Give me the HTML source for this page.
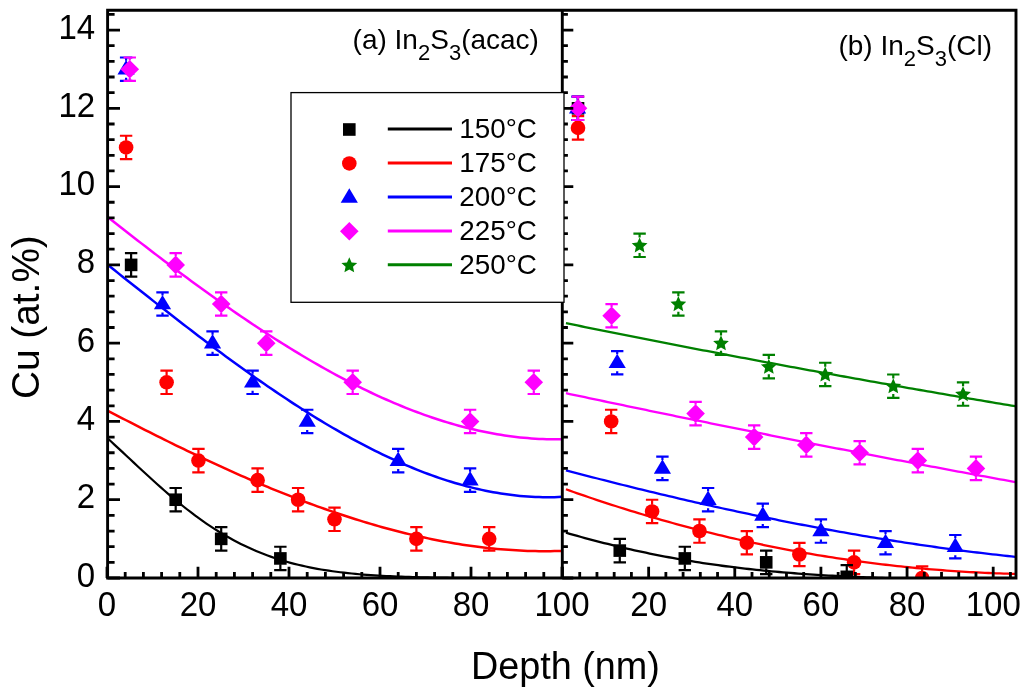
<!DOCTYPE html>
<html><head><meta charset="utf-8"><title>Cu depth profiles</title>
<style>
html,body{margin:0;padding:0;background:#fff;}
body{width:1024px;height:693px;overflow:hidden;}
svg{display:block;}
.t{font-family:"Liberation Sans",Arial,sans-serif;fill:#000;}
</style></head><body>
<svg width="1024" height="693" viewBox="0 0 1024 693">
<defs><clipPath id="cl"><rect x="107.6" y="10.3" width="454.69999999999993" height="567.7"/></clipPath><clipPath id="cr"><rect x="562.3" y="10.3" width="453.70000000000005" height="567.7"/></clipPath></defs>
<rect width="1024" height="693" fill="#fff"/>
<g clip-path="url(#cl)">
<path d="M107,437.82 L110.82,441.31 L114.65,444.82 L118.47,448.36 L122.29,451.92 L126.12,455.49 L129.94,459.07 L133.76,462.64 L137.59,466.21 L141.41,469.77 L145.24,473.3 L149.06,476.81 L152.88,480.29 L156.71,483.74 L160.53,487.14 L164.35,490.5 L168.18,493.82 L172,497.07 L175.82,500.28 L179.65,503.42 L183.47,506.5 L187.29,509.51 L191.12,512.46 L194.94,515.34 L198.76,518.14 L202.59,520.87 L206.41,523.53 L210.24,526.1 L214.06,528.6 L217.88,531.03 L221.71,533.37 L225.53,535.64 L229.35,537.82 L233.18,539.93 L237,541.96 L240.82,543.92 L244.65,545.79 L248.47,547.6 L252.29,549.32 L256.12,550.98 L259.94,552.56 L263.76,554.07 L267.59,555.51 L271.41,556.89 L275.24,558.2 L279.06,559.44 L282.88,560.63 L286.71,561.75 L290.53,562.82 L294.35,563.83 L298.18,564.78 L302,565.68 L305.82,566.53 L309.65,567.34 L313.47,568.09 L317.29,568.81 L321.12,569.48 L324.94,570.11 L328.76,570.7 L332.59,571.25 L336.41,571.77 L340.24,572.25 L344.06,572.71 L347.88,573.13 L351.71,573.52 L355.53,573.89 L359.35,574.23 L363.18,574.55 L367,574.85 L370.82,575.12 L374.65,575.37 L378.47,575.61 L382.29,575.83 L386.12,576.03 L389.94,576.21 L393.76,576.38 L397.59,576.54 L401.41,576.69 L405.24,576.82 L409.06,576.94 L412.88,577.06 L416.71,577.16 L420.53,577.25 L424.35,577.34 L428.18,577.42 L432,577.49 L435.82,577.56 L439.65,577.62 L443.47,577.67 L447.29,577.72 L451.12,577.77 L454.94,577.81 L458.76,577.84 L462.59,577.88 L466.41,577.91 L470.24,577.94 L474.06,577.96 L477.88,577.98 L481.71,578 L485.53,578.02 L489.35,578.04 L493.18,578.05 L497,578.07 L500.82,578.08 L504.65,578.09 L508.47,578.1 L512.29,578.11 L516.12,578.12 L519.94,578.12 L523.76,578.13 L527.59,578.14 L531.41,578.14 L535.24,578.14 L539.06,578.15 L542.88,578.15 L546.71,578.15 L550.53,578.16 L554.35,578.16 L558.18,578.16 L562,578.16" stroke="#000000" stroke-width="2.2" fill="none"/>
<path d="M107,410.3 L110.82,412.3 L114.65,414.3 L118.47,416.29 L122.29,418.27 L126.12,420.24 L129.94,422.21 L133.76,424.18 L137.59,426.13 L141.41,428.08 L145.24,430.02 L149.06,431.95 L152.88,433.88 L156.71,435.8 L160.53,437.71 L164.35,439.61 L168.18,441.5 L172,443.38 L175.82,445.26 L179.65,447.12 L183.47,448.98 L187.29,450.82 L191.12,452.66 L194.94,454.48 L198.76,456.3 L202.59,458.1 L206.41,459.89 L210.24,461.68 L214.06,463.45 L217.88,465.21 L221.71,466.96 L225.53,468.69 L229.35,470.42 L233.18,472.13 L237,473.83 L240.82,475.52 L244.65,477.19 L248.47,478.86 L252.29,480.5 L256.12,482.14 L259.94,483.76 L263.76,485.37 L267.59,486.96 L271.41,488.54 L275.24,490.1 L279.06,491.65 L282.88,493.19 L286.71,494.71 L290.53,496.21 L294.35,497.7 L298.18,499.17 L302,500.63 L305.82,502.07 L309.65,503.5 L313.47,504.9 L317.29,506.3 L321.12,507.67 L324.94,509.03 L328.76,510.37 L332.59,511.69 L336.41,512.99 L340.24,514.28 L344.06,515.55 L347.88,516.8 L351.71,518.03 L355.53,519.24 L359.35,520.43 L363.18,521.6 L367,522.76 L370.82,523.89 L374.65,525.01 L378.47,526.1 L382.29,527.18 L386.12,528.23 L389.94,529.26 L393.76,530.27 L397.59,531.27 L401.41,532.23 L405.24,533.18 L409.06,534.11 L412.88,535.01 L416.71,535.89 L420.53,536.75 L424.35,537.59 L428.18,538.4 L432,539.2 L435.82,539.96 L439.65,540.71 L443.47,541.43 L447.29,542.13 L451.12,542.8 L454.94,543.45 L458.76,544.07 L462.59,544.67 L466.41,545.25 L470.24,545.79 L474.06,546.32 L477.88,546.82 L481.71,547.29 L485.53,547.74 L489.35,548.16 L493.18,548.55 L497,548.92 L500.82,549.26 L504.65,549.58 L508.47,549.86 L512.29,550.12 L516.12,550.36 L519.94,550.56 L523.76,550.74 L527.59,550.88 L531.41,551 L535.24,551.09 L539.06,551.16 L542.88,551.19 L546.71,551.19 L550.53,551.17 L554.35,551.11 L558.18,551.03 L562,550.91" stroke="#ff0000" stroke-width="2.5" fill="none"/>
<path d="M107,264.27 L110.82,267.31 L114.65,270.35 L118.47,273.39 L122.29,276.42 L126.12,279.46 L129.94,282.49 L133.76,285.52 L137.59,288.55 L141.41,291.57 L145.24,294.59 L149.06,297.6 L152.88,300.61 L156.71,303.62 L160.53,306.61 L164.35,309.6 L168.18,312.59 L172,315.56 L175.82,318.53 L179.65,321.49 L183.47,324.44 L187.29,327.38 L191.12,330.31 L194.94,333.23 L198.76,336.14 L202.59,339.04 L206.41,341.93 L210.24,344.8 L214.06,347.66 L217.88,350.51 L221.71,353.35 L225.53,356.17 L229.35,358.98 L233.18,361.77 L237,364.55 L240.82,367.31 L244.65,370.06 L248.47,372.79 L252.29,375.5 L256.12,378.2 L259.94,380.88 L263.76,383.53 L267.59,386.17 L271.41,388.79 L275.24,391.4 L279.06,393.98 L282.88,396.54 L286.71,399.07 L290.53,401.59 L294.35,404.09 L298.18,406.56 L302,409.01 L305.82,411.43 L309.65,413.84 L313.47,416.21 L317.29,418.57 L321.12,420.9 L324.94,423.2 L328.76,425.47 L332.59,427.72 L336.41,429.95 L340.24,432.14 L344.06,434.31 L347.88,436.45 L351.71,438.56 L355.53,440.64 L359.35,442.69 L363.18,444.71 L367,446.7 L370.82,448.66 L374.65,450.58 L378.47,452.48 L382.29,454.34 L386.12,456.17 L389.94,457.97 L393.76,459.73 L397.59,461.45 L401.41,463.15 L405.24,464.81 L409.06,466.43 L412.88,468.01 L416.71,469.56 L420.53,471.08 L424.35,472.55 L428.18,473.99 L432,475.39 L435.82,476.75 L439.65,478.07 L443.47,479.35 L447.29,480.59 L451.12,481.79 L454.94,482.94 L458.76,484.06 L462.59,485.14 L466.41,486.17 L470.24,487.16 L474.06,488.1 L477.88,489.01 L481.71,489.86 L485.53,490.68 L489.35,491.44 L493.18,492.17 L497,492.84 L500.82,493.47 L504.65,494.05 L508.47,494.59 L512.29,495.08 L516.12,495.51 L519.94,495.9 L523.76,496.24 L527.59,496.53 L531.41,496.77 L535.24,496.96 L539.06,497.1 L542.88,497.19 L546.71,497.22 L550.53,497.21 L554.35,497.14 L558.18,497.01 L562,496.83" stroke="#0000ff" stroke-width="2.5" fill="none"/>
<path d="M107,216.45 L110.82,219.47 L114.65,222.48 L118.47,225.49 L122.29,228.49 L126.12,231.48 L129.94,234.46 L133.76,237.44 L137.59,240.41 L141.41,243.37 L145.24,246.32 L149.06,249.26 L152.88,252.19 L156.71,255.12 L160.53,258.03 L164.35,260.93 L168.18,263.82 L172,266.7 L175.82,269.57 L179.65,272.42 L183.47,275.27 L187.29,278.1 L191.12,280.92 L194.94,283.72 L198.76,286.51 L202.59,289.29 L206.41,292.05 L210.24,294.8 L214.06,297.54 L217.88,300.25 L221.71,302.96 L225.53,305.64 L229.35,308.31 L233.18,310.97 L237,313.6 L240.82,316.22 L244.65,318.83 L248.47,321.41 L252.29,323.97 L256.12,326.52 L259.94,329.05 L263.76,331.55 L267.59,334.04 L271.41,336.51 L275.24,338.96 L279.06,341.39 L282.88,343.79 L286.71,346.17 L290.53,348.54 L294.35,350.88 L298.18,353.19 L302,355.49 L305.82,357.76 L309.65,360.01 L313.47,362.23 L317.29,364.43 L321.12,366.61 L324.94,368.76 L328.76,370.88 L332.59,372.98 L336.41,375.06 L340.24,377.1 L344.06,379.13 L347.88,381.12 L351.71,383.09 L355.53,385.02 L359.35,386.94 L363.18,388.82 L367,390.67 L370.82,392.5 L374.65,394.29 L378.47,396.06 L382.29,397.79 L386.12,399.5 L389.94,401.18 L393.76,402.82 L397.59,404.43 L401.41,406.01 L405.24,407.56 L409.06,409.08 L412.88,410.56 L416.71,412.01 L420.53,413.43 L424.35,414.81 L428.18,416.16 L432,417.47 L435.82,418.75 L439.65,420 L443.47,421.21 L447.29,422.38 L451.12,423.51 L454.94,424.61 L458.76,425.68 L462.59,426.7 L466.41,427.69 L470.24,428.64 L474.06,429.56 L477.88,430.43 L481.71,431.26 L485.53,432.06 L489.35,432.82 L493.18,433.53 L497,434.21 L500.82,434.84 L504.65,435.44 L508.47,435.99 L512.29,436.5 L516.12,436.97 L519.94,437.4 L523.76,437.78 L527.59,438.12 L531.41,438.42 L535.24,438.67 L539.06,438.88 L542.88,439.05 L546.71,439.17 L550.53,439.25 L554.35,439.28 L558.18,439.26 L562,439.2" stroke="#ff00ff" stroke-width="2.5" fill="none"/>
<path d="M131.12,253.18 V259.08 M131.12,270.68 V276.58 M124.92,253.18 H137.31 M124.92,276.58 H137.31" stroke="#000000" stroke-width="2.2" fill="none"/>
<rect x="124.82" y="258.58" width="12.6" height="12.6" fill="#000000"/>
<path d="M175.7,488.02 V493.92 M175.7,505.52 V511.42 M169.5,488.02 H181.9 M169.5,511.42 H181.9" stroke="#000000" stroke-width="2.2" fill="none"/>
<rect x="169.4" y="493.42" width="12.6" height="12.6" fill="#000000"/>
<path d="M221.2,527.16 V533.06 M221.2,544.66 V550.56 M215,527.16 H227.4 M215,550.56 H227.4" stroke="#000000" stroke-width="2.2" fill="none"/>
<rect x="214.9" y="532.56" width="12.6" height="12.6" fill="#000000"/>
<path d="M280.36,546.73 V552.63 M280.36,564.23 V570.13 M274.16,546.73 H286.56 M274.16,570.13 H286.56" stroke="#000000" stroke-width="2.2" fill="none"/>
<rect x="274.06" y="552.13" width="12.6" height="12.6" fill="#000000"/>
<path d="M126.11,135.76 V140.66 M126.11,154.26 V159.16 M119.91,135.76 H132.31 M119.91,159.16 H132.31" stroke="#ff0000" stroke-width="2.2" fill="none"/>
<circle cx="126.11" cy="147.46" r="7.3" fill="#ff0000"/>
<path d="M166.6,370.6 V375.5 M166.6,389.1 V394 M160.41,370.6 H172.8 M160.41,394 H172.8" stroke="#ff0000" stroke-width="2.2" fill="none"/>
<circle cx="166.6" cy="382.3" r="7.3" fill="#ff0000"/>
<path d="M198.45,448.88 V453.78 M198.45,467.38 V472.28 M192.25,448.88 H204.65 M192.25,472.28 H204.65" stroke="#ff0000" stroke-width="2.2" fill="none"/>
<circle cx="198.45" cy="460.58" r="7.3" fill="#ff0000"/>
<path d="M257.61,468.45 V473.35 M257.61,486.95 V491.85 M251.41,468.45 H263.81 M251.41,491.85 H263.81" stroke="#ff0000" stroke-width="2.2" fill="none"/>
<circle cx="257.61" cy="480.15" r="7.3" fill="#ff0000"/>
<path d="M298.1,488.02 V492.92 M298.1,506.52 V511.42 M291.9,488.02 H304.3 M291.9,511.42 H304.3" stroke="#ff0000" stroke-width="2.2" fill="none"/>
<circle cx="298.1" cy="499.72" r="7.3" fill="#ff0000"/>
<path d="M334.5,507.59 V512.49 M334.5,526.09 V530.99 M328.3,507.59 H340.7 M328.3,530.99 H340.7" stroke="#ff0000" stroke-width="2.2" fill="none"/>
<circle cx="334.5" cy="519.29" r="7.3" fill="#ff0000"/>
<path d="M416.4,527.16 V532.06 M416.4,545.66 V550.56 M410.2,527.16 H422.6 M410.2,550.56 H422.6" stroke="#ff0000" stroke-width="2.2" fill="none"/>
<circle cx="416.4" cy="538.86" r="7.3" fill="#ff0000"/>
<path d="M489.2,527.16 V532.06 M489.2,545.66 V550.56 M483,527.16 H495.4 M483,550.56 H495.4" stroke="#ff0000" stroke-width="2.2" fill="none"/>
<circle cx="489.2" cy="538.86" r="7.3" fill="#ff0000"/>
<path d="M126.11,57.48 V60.68 M126.11,77.68 V80.88 M119.91,57.48 H132.31 M119.91,80.88 H132.31" stroke="#0000ff" stroke-width="2.2" fill="none"/>
<path d="M126.11,60.08 L134.71,74.48 L117.51,74.48Z" fill="#0000ff"/>
<path d="M162.51,292.32 V295.52 M162.51,312.52 V315.72 M156.31,292.32 H168.71 M156.31,315.72 H168.71" stroke="#0000ff" stroke-width="2.2" fill="none"/>
<path d="M162.51,294.92 L171.11,309.32 L153.91,309.32Z" fill="#0000ff"/>
<path d="M212.56,331.46 V334.66 M212.56,351.66 V354.86 M206.36,331.46 H218.76 M206.36,354.86 H218.76" stroke="#0000ff" stroke-width="2.2" fill="none"/>
<path d="M212.56,334.06 L221.16,348.46 L203.96,348.46Z" fill="#0000ff"/>
<path d="M252.6,370.6 V373.8 M252.6,390.8 V394 M246.4,370.6 H258.8 M246.4,394 H258.8" stroke="#0000ff" stroke-width="2.2" fill="none"/>
<path d="M252.6,373.2 L261.2,387.6 L244,387.6Z" fill="#0000ff"/>
<path d="M307.2,409.74 V412.94 M307.2,429.94 V433.14 M301,409.74 H313.4 M301,433.14 H313.4" stroke="#0000ff" stroke-width="2.2" fill="none"/>
<path d="M307.2,412.34 L315.8,426.74 L298.6,426.74Z" fill="#0000ff"/>
<path d="M398.2,448.88 V452.08 M398.2,469.08 V472.28 M392,448.88 H404.4 M392,472.28 H404.4" stroke="#0000ff" stroke-width="2.2" fill="none"/>
<path d="M398.2,451.48 L406.8,465.88 L389.6,465.88Z" fill="#0000ff"/>
<path d="M470.09,468.45 V471.65 M470.09,488.65 V491.85 M463.89,468.45 H476.29 M463.89,491.85 H476.29" stroke="#0000ff" stroke-width="2.2" fill="none"/>
<path d="M470.09,471.05 L478.69,485.45 L461.49,485.45Z" fill="#0000ff"/>
<path d="M129.75,57.48 V60.38 M129.75,77.98 V80.88 M123.55,57.48 H135.95 M123.55,80.88 H135.95" stroke="#ff00ff" stroke-width="2.2" fill="none"/>
<path d="M129.75,59.88 L139.05,69.18 L129.75,78.48 L120.45,69.18Z" fill="#ff00ff"/>
<path d="M175.7,253.18 V256.08 M175.7,273.68 V276.58 M169.5,253.18 H181.9 M169.5,276.58 H181.9" stroke="#ff00ff" stroke-width="2.2" fill="none"/>
<path d="M175.7,255.58 L185,264.88 L175.7,274.18 L166.4,264.88Z" fill="#ff00ff"/>
<path d="M221.2,292.32 V295.22 M221.2,312.82 V315.72 M215,292.32 H227.4 M215,315.72 H227.4" stroke="#ff00ff" stroke-width="2.2" fill="none"/>
<path d="M221.2,294.72 L230.5,304.02 L221.2,313.32 L211.9,304.02Z" fill="#ff00ff"/>
<path d="M266.25,331.46 V334.36 M266.25,351.96 V354.86 M260.05,331.46 H272.45 M260.05,354.86 H272.45" stroke="#ff00ff" stroke-width="2.2" fill="none"/>
<path d="M266.25,333.86 L275.55,343.16 L266.25,352.46 L256.95,343.16Z" fill="#ff00ff"/>
<path d="M352.7,370.6 V373.5 M352.7,391.1 V394 M346.5,370.6 H358.9 M346.5,394 H358.9" stroke="#ff00ff" stroke-width="2.2" fill="none"/>
<path d="M352.7,373 L362,382.3 L352.7,391.6 L343.4,382.3Z" fill="#ff00ff"/>
<path d="M470.09,409.74 V412.64 M470.09,430.24 V433.14 M463.89,409.74 H476.29 M463.89,433.14 H476.29" stroke="#ff00ff" stroke-width="2.2" fill="none"/>
<path d="M470.09,412.14 L479.39,421.44 L470.09,430.74 L460.79,421.44Z" fill="#ff00ff"/>
<path d="M533.79,370.6 V373.5 M533.79,391.1 V394 M527.59,370.6 H539.99 M527.59,394 H539.99" stroke="#ff00ff" stroke-width="2.2" fill="none"/>
<path d="M533.79,373 L543.09,382.3 L533.79,391.6 L524.49,382.3Z" fill="#ff00ff"/>
</g>
<g clip-path="url(#cr)">
<path d="M565.95,532.71 L569.75,533.8 L573.56,534.88 L577.37,535.95 L581.18,537 L584.98,538.04 L588.79,539.07 L592.6,540.08 L596.41,541.08 L600.21,542.06 L604.02,543.03 L607.83,543.99 L611.64,544.93 L615.44,545.85 L619.25,546.77 L623.06,547.66 L626.87,548.54 L630.67,549.41 L634.48,550.26 L638.29,551.1 L642.1,551.92 L645.9,552.73 L649.71,553.52 L653.52,554.29 L657.33,555.06 L661.13,555.8 L664.94,556.53 L668.75,557.25 L672.56,557.95 L676.36,558.63 L680.17,559.3 L683.98,559.96 L687.79,560.6 L691.59,561.23 L695.4,561.84 L699.21,562.44 L703.02,563.02 L706.82,563.59 L710.63,564.15 L714.44,564.69 L718.25,565.22 L722.05,565.74 L725.86,566.24 L729.67,566.73 L733.48,567.21 L737.28,567.67 L741.09,568.12 L744.9,568.56 L748.71,568.99 L752.51,569.41 L756.32,569.81 L760.13,570.2 L763.94,570.58 L767.74,570.95 L771.55,571.31 L775.36,571.66 L779.17,572 L782.97,572.33 L786.78,572.64 L790.59,572.95 L794.4,573.25 L798.21,573.54 L802.01,573.82 L805.82,574.09 L809.63,574.35 L813.44,574.6 L817.24,574.85 L821.05,575.09 L824.86,575.31 L828.67,575.54 L832.47,575.75 L836.28,575.95 L840.09,576.15 L843.9,576.35 L847.7,576.53 L851.51,576.71 L855.32,576.88 L859.13,577.05 L862.93,577.21 L866.74,577.36 L870.55,577.51 L874.36,577.65 L878.16,577.79 L881.97,577.92 L885.78,578.05 L889.59,578.17 L893.39,578.28 L897.2,578.4 L901.01,578.5 L904.82,578.61 L908.62,578.71 L912.43,578.8 L916.24,578.9 L920.05,578.98 L923.85,579.07 L927.66,579.15 L931.47,579.23 L935.28,579.3 L939.08,579.37 L942.89,579.44 L946.7,579.5 L950.51,579.57 L954.31,579.62 L958.12,579.68 L961.93,579.74 L965.74,579.79 L969.54,579.84 L973.35,579.88 L977.16,579.93 L980.97,579.97 L984.77,580.01 L988.58,580.05 L992.39,580.09 L996.2,580.13 L1000,580.16 L1003.81,580.19 L1007.62,580.22 L1011.43,580.25 L1015.23,580.28 L1019.04,580.31" stroke="#000000" stroke-width="2.3" fill="none"/>
<path d="M565.95,489.28 L569.75,490.64 L573.56,491.98 L577.37,493.31 L581.18,494.63 L584.98,495.94 L588.79,497.24 L592.6,498.53 L596.41,499.8 L600.21,501.07 L604.02,502.32 L607.83,503.57 L611.64,504.8 L615.44,506.02 L619.25,507.23 L623.06,508.43 L626.87,509.61 L630.67,510.79 L634.48,511.96 L638.29,513.11 L642.1,514.25 L645.9,515.38 L649.71,516.5 L653.52,517.61 L657.33,518.71 L661.13,519.8 L664.94,520.88 L668.75,521.94 L672.56,523 L676.36,524.04 L680.17,525.07 L683.98,526.1 L687.79,527.11 L691.59,528.11 L695.4,529.1 L699.21,530.07 L703.02,531.04 L706.82,532 L710.63,532.94 L714.44,533.88 L718.25,534.8 L722.05,535.71 L725.86,536.61 L729.67,537.51 L733.48,538.38 L737.28,539.25 L741.09,540.11 L744.9,540.96 L748.71,541.8 L752.51,542.62 L756.32,543.44 L760.13,544.24 L763.94,545.03 L767.74,545.82 L771.55,546.59 L775.36,547.35 L779.17,548.1 L782.97,548.84 L786.78,549.57 L790.59,550.28 L794.4,550.99 L798.21,551.69 L802.01,552.37 L805.82,553.05 L809.63,553.71 L813.44,554.36 L817.24,555.01 L821.05,555.64 L824.86,556.26 L828.67,556.87 L832.47,557.47 L836.28,558.06 L840.09,558.64 L843.9,559.21 L847.7,559.76 L851.51,560.31 L855.32,560.85 L859.13,561.37 L862.93,561.89 L866.74,562.39 L870.55,562.88 L874.36,563.37 L878.16,563.84 L881.97,564.3 L885.78,564.75 L889.59,565.19 L893.39,565.62 L897.2,566.04 L901.01,566.45 L904.82,566.85 L908.62,567.24 L912.43,567.62 L916.24,567.99 L920.05,568.34 L923.85,568.69 L927.66,569.03 L931.47,569.35 L935.28,569.67 L939.08,569.97 L942.89,570.26 L946.7,570.55 L950.51,570.82 L954.31,571.08 L958.12,571.34 L961.93,571.58 L965.74,571.81 L969.54,572.03 L973.35,572.24 L977.16,572.44 L980.97,572.63 L984.77,572.81 L988.58,572.98 L992.39,573.14 L996.2,573.29 L1000,573.43 L1003.81,573.56 L1007.62,573.67 L1011.43,573.78 L1015.23,573.88 L1019.04,573.97" stroke="#ff0000" stroke-width="2.3" fill="none"/>
<path d="M565.95,470.34 L569.75,471.34 L573.56,472.34 L577.37,473.34 L581.18,474.33 L584.98,475.32 L588.79,476.3 L592.6,477.29 L596.41,478.26 L600.21,479.24 L604.02,480.21 L607.83,481.17 L611.64,482.14 L615.44,483.1 L619.25,484.05 L623.06,485 L626.87,485.95 L630.67,486.89 L634.48,487.83 L638.29,488.76 L642.1,489.7 L645.9,490.62 L649.71,491.54 L653.52,492.46 L657.33,493.38 L661.13,494.29 L664.94,495.19 L668.75,496.09 L672.56,496.99 L676.36,497.88 L680.17,498.77 L683.98,499.66 L687.79,500.54 L691.59,501.41 L695.4,502.28 L699.21,503.15 L703.02,504.01 L706.82,504.87 L710.63,505.72 L714.44,506.57 L718.25,507.41 L722.05,508.25 L725.86,509.08 L729.67,509.91 L733.48,510.74 L737.28,511.56 L741.09,512.37 L744.9,513.18 L748.71,513.99 L752.51,514.79 L756.32,515.59 L760.13,516.38 L763.94,517.16 L767.74,517.94 L771.55,518.72 L775.36,519.49 L779.17,520.26 L782.97,521.02 L786.78,521.78 L790.59,522.53 L794.4,523.27 L798.21,524.01 L802.01,524.75 L805.82,525.48 L809.63,526.2 L813.44,526.92 L817.24,527.64 L821.05,528.34 L824.86,529.05 L828.67,529.75 L832.47,530.44 L836.28,531.13 L840.09,531.81 L843.9,532.48 L847.7,533.16 L851.51,533.82 L855.32,534.48 L859.13,535.13 L862.93,535.78 L866.74,536.43 L870.55,537.06 L874.36,537.69 L878.16,538.32 L881.97,538.94 L885.78,539.55 L889.59,540.16 L893.39,540.76 L897.2,541.36 L901.01,541.95 L904.82,542.54 L908.62,543.12 L912.43,543.69 L916.24,544.26 L920.05,544.82 L923.85,545.37 L927.66,545.92 L931.47,546.46 L935.28,547 L939.08,547.53 L942.89,548.05 L946.7,548.57 L950.51,549.08 L954.31,549.59 L958.12,550.09 L961.93,550.58 L965.74,551.07 L969.54,551.55 L973.35,552.02 L977.16,552.49 L980.97,552.95 L984.77,553.4 L988.58,553.85 L992.39,554.29 L996.2,554.73 L1000,555.16 L1003.81,555.58 L1007.62,555.99 L1011.43,556.4 L1015.23,556.8 L1019.04,557.2" stroke="#0000ff" stroke-width="2.3" fill="none"/>
<path d="M565.95,393.21 L569.75,394.02 L573.56,394.82 L577.37,395.63 L581.18,396.44 L584.98,397.24 L588.79,398.04 L592.6,398.85 L596.41,399.65 L600.21,400.45 L604.02,401.25 L607.83,402.05 L611.64,402.84 L615.44,403.64 L619.25,404.44 L623.06,405.23 L626.87,406.03 L630.67,406.82 L634.48,407.61 L638.29,408.4 L642.1,409.19 L645.9,409.98 L649.71,410.77 L653.52,411.56 L657.33,412.35 L661.13,413.13 L664.94,413.92 L668.75,414.7 L672.56,415.48 L676.36,416.26 L680.17,417.05 L683.98,417.83 L687.79,418.6 L691.59,419.38 L695.4,420.16 L699.21,420.94 L703.02,421.71 L706.82,422.49 L710.63,423.26 L714.44,424.03 L718.25,424.8 L722.05,425.57 L725.86,426.34 L729.67,427.11 L733.48,427.88 L737.28,428.65 L741.09,429.41 L744.9,430.18 L748.71,430.94 L752.51,431.71 L756.32,432.47 L760.13,433.23 L763.94,433.99 L767.74,434.75 L771.55,435.51 L775.36,436.26 L779.17,437.02 L782.97,437.78 L786.78,438.53 L790.59,439.28 L794.4,440.04 L798.21,440.79 L802.01,441.54 L805.82,442.29 L809.63,443.04 L813.44,443.79 L817.24,444.53 L821.05,445.28 L824.86,446.03 L828.67,446.77 L832.47,447.51 L836.28,448.26 L840.09,449 L843.9,449.74 L847.7,450.48 L851.51,451.22 L855.32,451.95 L859.13,452.69 L862.93,453.43 L866.74,454.16 L870.55,454.9 L874.36,455.63 L878.16,456.36 L881.97,457.09 L885.78,457.82 L889.59,458.55 L893.39,459.28 L897.2,460.01 L901.01,460.73 L904.82,461.46 L908.62,462.18 L912.43,462.91 L916.24,463.63 L920.05,464.35 L923.85,465.07 L927.66,465.79 L931.47,466.51 L935.28,467.23 L939.08,467.95 L942.89,468.66 L946.7,469.38 L950.51,470.09 L954.31,470.8 L958.12,471.52 L961.93,472.23 L965.74,472.94 L969.54,473.65 L973.35,474.36 L977.16,475.07 L980.97,475.77 L984.77,476.48 L988.58,477.18 L992.39,477.89 L996.2,478.59 L1000,479.29 L1003.81,479.99 L1007.62,480.69 L1011.43,481.39 L1015.23,482.09 L1019.04,482.79" stroke="#ff00ff" stroke-width="2.3" fill="none"/>
<path d="M565.95,323.16 L569.75,323.93 L573.56,324.71 L577.37,325.48 L581.18,326.25 L584.98,327.02 L588.79,327.78 L592.6,328.55 L596.41,329.32 L600.21,330.08 L604.02,330.84 L607.83,331.6 L611.64,332.36 L615.44,333.12 L619.25,333.88 L623.06,334.64 L626.87,335.39 L630.67,336.15 L634.48,336.9 L638.29,337.65 L642.1,338.41 L645.9,339.15 L649.71,339.9 L653.52,340.65 L657.33,341.4 L661.13,342.14 L664.94,342.89 L668.75,343.63 L672.56,344.37 L676.36,345.11 L680.17,345.85 L683.98,346.59 L687.79,347.32 L691.59,348.06 L695.4,348.79 L699.21,349.53 L703.02,350.26 L706.82,350.99 L710.63,351.72 L714.44,352.45 L718.25,353.17 L722.05,353.9 L725.86,354.62 L729.67,355.35 L733.48,356.07 L737.28,356.79 L741.09,357.51 L744.9,358.23 L748.71,358.95 L752.51,359.66 L756.32,360.38 L760.13,361.09 L763.94,361.8 L767.74,362.52 L771.55,363.23 L775.36,363.94 L779.17,364.64 L782.97,365.35 L786.78,366.06 L790.59,366.76 L794.4,367.46 L798.21,368.17 L802.01,368.87 L805.82,369.57 L809.63,370.27 L813.44,370.96 L817.24,371.66 L821.05,372.35 L824.86,373.05 L828.67,373.74 L832.47,374.43 L836.28,375.12 L840.09,375.81 L843.9,376.5 L847.7,377.18 L851.51,377.87 L855.32,378.55 L859.13,379.24 L862.93,379.92 L866.74,380.6 L870.55,381.28 L874.36,381.96 L878.16,382.63 L881.97,383.31 L885.78,383.99 L889.59,384.66 L893.39,385.33 L897.2,386 L901.01,386.67 L904.82,387.34 L908.62,388.01 L912.43,388.67 L916.24,389.34 L920.05,390 L923.85,390.67 L927.66,391.33 L931.47,391.99 L935.28,392.65 L939.08,393.31 L942.89,393.96 L946.7,394.62 L950.51,395.27 L954.31,395.93 L958.12,396.58 L961.93,397.23 L965.74,397.88 L969.54,398.53 L973.35,399.17 L977.16,399.82 L980.97,400.47 L984.77,401.11 L988.58,401.75 L992.39,402.39 L996.2,403.03 L1000,403.67 L1003.81,404.31 L1007.62,404.95 L1011.43,405.58 L1015.23,406.22 L1019.04,406.85" stroke="#008000" stroke-width="2.3" fill="none"/>
<path d="M578.01,116.19 V121.09 M578.01,134.69 V139.59 M571.81,116.19 H584.21 M571.81,139.59 H584.21" stroke="#ff0000" stroke-width="2.2" fill="none"/>
<circle cx="578.01" cy="127.89" r="7.3" fill="#ff0000"/>
<path d="M611.17,409.74 V414.64 M611.17,428.24 V433.14 M604.97,409.74 H617.37 M604.97,433.14 H617.37" stroke="#ff0000" stroke-width="2.2" fill="none"/>
<circle cx="611.17" cy="421.44" r="7.3" fill="#ff0000"/>
<path d="M652.09,499.76 V504.66 M652.09,518.26 V523.16 M645.89,499.76 H658.29 M645.89,523.16 H658.29" stroke="#ff0000" stroke-width="2.2" fill="none"/>
<circle cx="652.09" cy="511.46" r="7.3" fill="#ff0000"/>
<path d="M699.46,519.33 V524.23 M699.46,537.83 V542.73 M693.26,519.33 H705.66 M693.26,542.73 H705.66" stroke="#ff0000" stroke-width="2.2" fill="none"/>
<circle cx="699.46" cy="531.03" r="7.3" fill="#ff0000"/>
<path d="M746.84,531.07 V535.97 M746.84,549.57 V554.47 M740.64,531.07 H753.04 M740.64,554.47 H753.04" stroke="#ff0000" stroke-width="2.2" fill="none"/>
<circle cx="746.84" cy="542.77" r="7.3" fill="#ff0000"/>
<path d="M799.38,542.82 V547.72 M799.38,561.32 V566.22 M793.18,542.82 H805.59 M793.18,566.22 H805.59" stroke="#ff0000" stroke-width="2.2" fill="none"/>
<circle cx="799.38" cy="554.52" r="7.3" fill="#ff0000"/>
<path d="M854.08,550.64 V555.54 M854.08,569.14 V574.04 M847.88,550.64 H860.28 M847.88,574.04 H860.28" stroke="#ff0000" stroke-width="2.2" fill="none"/>
<circle cx="854.08" cy="562.34" r="7.3" fill="#ff0000"/>
<path d="M922.13,566.3 V571.2 M922.13,584.8 V589.7 M915.93,566.3 H928.33 M915.93,589.7 H928.33" stroke="#ff0000" stroke-width="2.2" fill="none"/>
<circle cx="922.13" cy="578" r="7.3" fill="#ff0000"/>
<path d="M578.01,96.62 V102.52 M578.01,114.12 V120.02 M571.81,96.62 H584.21 M571.81,120.02 H584.21" stroke="#000000" stroke-width="2.2" fill="none"/>
<rect x="571.71" y="102.02" width="12.6" height="12.6" fill="#000000"/>
<path d="M619.78,538.9 V544.8 M619.78,556.4 V562.3 M613.58,538.9 H625.98 M613.58,562.3 H625.98" stroke="#000000" stroke-width="2.2" fill="none"/>
<rect x="613.48" y="544.3" width="12.6" height="12.6" fill="#000000"/>
<path d="M684.82,546.73 V552.63 M684.82,564.23 V570.13 M678.62,546.73 H691.02 M678.62,570.13 H691.02" stroke="#000000" stroke-width="2.2" fill="none"/>
<rect x="678.52" y="552.13" width="12.6" height="12.6" fill="#000000"/>
<path d="M766.22,550.64 V556.54 M766.22,568.14 V574.04 M760.02,550.64 H772.42 M760.02,574.04 H772.42" stroke="#000000" stroke-width="2.2" fill="none"/>
<rect x="759.92" y="556.04" width="12.6" height="12.6" fill="#000000"/>
<path d="M846.76,565.13 V571.03 M846.76,582.63 V588.53 M840.56,565.13 H852.96 M840.56,588.53 H852.96" stroke="#000000" stroke-width="2.2" fill="none"/>
<rect x="840.46" y="570.53" width="12.6" height="12.6" fill="#000000"/>
<path d="M577.57,96.62 V99.82 M577.57,116.82 V120.02 M571.37,96.62 H583.77 M571.37,120.02 H583.77" stroke="#0000ff" stroke-width="2.2" fill="none"/>
<path d="M577.57,99.22 L586.17,113.62 L568.97,113.62Z" fill="#0000ff"/>
<path d="M617.2,351.03 V354.23 M617.2,371.23 V374.43 M611,351.03 H623.4 M611,374.43 H623.4" stroke="#0000ff" stroke-width="2.2" fill="none"/>
<path d="M617.2,353.63 L625.8,368.03 L608.6,368.03Z" fill="#0000ff"/>
<path d="M662.42,456.71 V459.91 M662.42,476.91 V480.11 M656.22,456.71 H668.62 M656.22,480.11 H668.62" stroke="#0000ff" stroke-width="2.2" fill="none"/>
<path d="M662.42,459.31 L671.02,473.71 L653.82,473.71Z" fill="#0000ff"/>
<path d="M708.08,488.02 V491.22 M708.08,508.22 V511.42 M701.88,488.02 H714.28 M701.88,511.42 H714.28" stroke="#0000ff" stroke-width="2.2" fill="none"/>
<path d="M708.08,490.62 L716.68,505.02 L699.48,505.02Z" fill="#0000ff"/>
<path d="M762.78,503.68 V506.88 M762.78,523.88 V527.08 M756.58,503.68 H768.98 M756.58,527.08 H768.98" stroke="#0000ff" stroke-width="2.2" fill="none"/>
<path d="M762.78,506.28 L771.38,520.68 L754.18,520.68Z" fill="#0000ff"/>
<path d="M820.92,519.33 V522.53 M820.92,539.53 V542.73 M814.72,519.33 H827.12 M814.72,542.73 H827.12" stroke="#0000ff" stroke-width="2.2" fill="none"/>
<path d="M820.92,521.93 L829.52,536.33 L812.32,536.33Z" fill="#0000ff"/>
<path d="M885.53,531.07 V534.27 M885.53,551.27 V554.47 M879.33,531.07 H891.73 M879.33,554.47 H891.73" stroke="#0000ff" stroke-width="2.2" fill="none"/>
<path d="M885.53,533.67 L894.13,548.07 L876.93,548.07Z" fill="#0000ff"/>
<path d="M955.3,534.99 V538.19 M955.3,555.19 V558.39 M949.1,534.99 H961.5 M949.1,558.39 H961.5" stroke="#0000ff" stroke-width="2.2" fill="none"/>
<path d="M955.3,537.59 L963.9,551.99 L946.7,551.99Z" fill="#0000ff"/>
<path d="M578.01,96.62 V99.52 M578.01,117.12 V120.02 M571.81,96.62 H584.21 M571.81,120.02 H584.21" stroke="#ff00ff" stroke-width="2.2" fill="none"/>
<path d="M578.01,99.02 L587.31,108.32 L578.01,117.62 L568.71,108.32Z" fill="#ff00ff"/>
<path d="M611.6,304.06 V306.96 M611.6,324.56 V327.46 M605.4,304.06 H617.8 M605.4,327.46 H617.8" stroke="#ff00ff" stroke-width="2.2" fill="none"/>
<path d="M611.6,306.46 L620.9,315.76 L611.6,325.06 L602.3,315.76Z" fill="#ff00ff"/>
<path d="M695.59,401.91 V404.81 M695.59,422.41 V425.31 M689.39,401.91 H701.79 M689.39,425.31 H701.79" stroke="#ff00ff" stroke-width="2.2" fill="none"/>
<path d="M695.59,404.31 L704.89,413.61 L695.59,422.91 L686.29,413.61Z" fill="#ff00ff"/>
<path d="M754.16,425.4 V428.3 M754.16,445.9 V448.8 M747.96,425.4 H760.36 M747.96,448.8 H760.36" stroke="#ff00ff" stroke-width="2.2" fill="none"/>
<path d="M754.16,427.8 L763.46,437.1 L754.16,446.4 L744.86,437.1Z" fill="#ff00ff"/>
<path d="M806.28,433.22 V436.12 M806.28,453.72 V456.62 M800.08,433.22 H812.48 M800.08,456.62 H812.48" stroke="#ff00ff" stroke-width="2.2" fill="none"/>
<path d="M806.28,435.62 L815.58,444.92 L806.28,454.22 L796.98,444.92Z" fill="#ff00ff"/>
<path d="M859.68,441.05 V443.95 M859.68,461.55 V464.45 M853.48,441.05 H865.88 M853.48,464.45 H865.88" stroke="#ff00ff" stroke-width="2.2" fill="none"/>
<path d="M859.68,443.45 L868.98,452.75 L859.68,462.05 L850.38,452.75Z" fill="#ff00ff"/>
<path d="M917.83,448.88 V451.78 M917.83,469.38 V472.28 M911.63,448.88 H924.03 M911.63,472.28 H924.03" stroke="#ff00ff" stroke-width="2.2" fill="none"/>
<path d="M917.83,451.28 L927.13,460.58 L917.83,469.88 L908.53,460.58Z" fill="#ff00ff"/>
<path d="M975.97,456.71 V459.61 M975.97,477.21 V480.11 M969.77,456.71 H982.17 M969.77,480.11 H982.17" stroke="#ff00ff" stroke-width="2.2" fill="none"/>
<path d="M975.97,459.11 L985.27,468.41 L975.97,477.71 L966.67,468.41Z" fill="#ff00ff"/>
<path d="M639.6,233.61 V237.61 M639.6,253.01 V257.01 M633.4,233.61 H645.8 M633.4,257.01 H645.8" stroke="#008000" stroke-width="2.2" fill="none"/>
<path d="M639.6,237.41 L641.89,242.55 L647.49,243.15 L643.31,246.92 L644.47,252.42 L639.6,249.61 L634.72,252.42 L635.89,246.92 L631.7,243.15 L637.3,242.55Z" fill="#008000"/>
<path d="M678.36,292.32 V296.32 M678.36,311.72 V315.72 M672.16,292.32 H684.56 M672.16,315.72 H684.56" stroke="#008000" stroke-width="2.2" fill="none"/>
<path d="M678.36,296.12 L680.65,301.26 L686.25,301.86 L682.07,305.63 L683.24,311.13 L678.36,308.32 L673.48,311.13 L674.65,305.63 L670.46,301.86 L676.07,301.26Z" fill="#008000"/>
<path d="M721,331.46 V335.46 M721,350.86 V354.86 M714.8,331.46 H727.2 M714.8,354.86 H727.2" stroke="#008000" stroke-width="2.2" fill="none"/>
<path d="M721,335.26 L723.29,340.4 L728.89,341 L724.71,344.77 L725.88,350.27 L721,347.46 L716.12,350.27 L717.29,344.77 L713.1,341 L718.7,340.4Z" fill="#008000"/>
<path d="M768.81,354.94 V358.94 M768.81,374.34 V378.34 M762.61,354.94 H775.01 M762.61,378.34 H775.01" stroke="#008000" stroke-width="2.2" fill="none"/>
<path d="M768.81,358.74 L771.1,363.89 L776.7,364.48 L772.52,368.25 L773.68,373.76 L768.81,370.94 L763.93,373.76 L765.1,368.25 L760.91,364.48 L766.51,363.89Z" fill="#008000"/>
<path d="M825.23,362.77 V366.77 M825.23,382.17 V386.17 M819.03,362.77 H831.43 M819.03,386.17 H831.43" stroke="#008000" stroke-width="2.2" fill="none"/>
<path d="M825.23,366.57 L827.52,371.72 L833.12,372.31 L828.94,376.08 L830.11,381.59 L825.23,378.77 L820.35,381.59 L821.52,376.08 L817.33,372.31 L822.93,371.72Z" fill="#008000"/>
<path d="M893.28,374.51 V378.51 M893.28,393.91 V397.91 M887.08,374.51 H899.48 M887.08,397.91 H899.48" stroke="#008000" stroke-width="2.2" fill="none"/>
<path d="M893.28,378.31 L895.57,383.46 L901.17,384.05 L896.99,387.82 L898.16,393.33 L893.28,390.51 L888.4,393.33 L889.57,387.82 L885.38,384.05 L890.98,383.46Z" fill="#008000"/>
<path d="M963.05,382.34 V386.34 M963.05,401.74 V405.74 M956.85,382.34 H969.25 M956.85,405.74 H969.25" stroke="#008000" stroke-width="2.2" fill="none"/>
<path d="M963.05,386.14 L965.34,391.29 L970.94,391.88 L966.76,395.65 L967.93,401.16 L963.05,398.34 L958.17,401.16 L959.34,395.65 L955.16,391.88 L960.76,391.29Z" fill="#008000"/>
</g>
<path d="M107.6,578 h12.4 M107.6,562.34 h7.0 M107.6,546.69 h7.0 M107.6,531.03 h7.0 M107.6,515.38 h7.0 M107.6,499.72 h12.4 M107.6,484.06 h7.0 M107.6,468.41 h7.0 M107.6,452.75 h7.0 M107.6,437.1 h7.0 M107.6,421.44 h12.4 M107.6,405.78 h7.0 M107.6,390.13 h7.0 M107.6,374.47 h7.0 M107.6,358.82 h7.0 M107.6,343.16 h12.4 M107.6,327.5 h7.0 M107.6,311.85 h7.0 M107.6,296.19 h7.0 M107.6,280.54 h7.0 M107.6,264.88 h12.4 M107.6,249.22 h7.0 M107.6,233.57 h7.0 M107.6,217.91 h7.0 M107.6,202.26 h7.0 M107.6,186.6 h12.4 M107.6,170.94 h7.0 M107.6,155.29 h7.0 M107.6,139.63 h7.0 M107.6,123.98 h7.0 M107.6,108.32 h12.4 M107.6,92.66 h7.0 M107.6,77.01 h7.0 M107.6,61.35 h7.0 M107.6,45.7 h7.0 M107.6,30.04 h12.4 M107.6,14.38 h7.0 M562.3,578 h11.0 M562.3,562.34 h5.6 M562.3,546.69 h5.6 M562.3,531.03 h5.6 M562.3,515.38 h5.6 M562.3,499.72 h11.0 M562.3,484.06 h5.6 M562.3,468.41 h5.6 M562.3,452.75 h5.6 M562.3,437.1 h5.6 M562.3,421.44 h11.0 M562.3,405.78 h5.6 M562.3,390.13 h5.6 M562.3,374.47 h5.6 M562.3,358.82 h5.6 M562.3,343.16 h11.0 M562.3,327.5 h5.6 M562.3,311.85 h5.6 M562.3,296.19 h5.6 M562.3,280.54 h5.6 M562.3,264.88 h11.0 M562.3,249.22 h5.6 M562.3,233.57 h5.6 M562.3,217.91 h5.6 M562.3,202.26 h5.6 M562.3,186.6 h11.0 M562.3,170.94 h5.6 M562.3,155.29 h5.6 M562.3,139.63 h5.6 M562.3,123.98 h5.6 M562.3,108.32 h11.0 M562.3,92.66 h5.6 M562.3,77.01 h5.6 M562.3,61.35 h5.6 M562.3,45.7 h5.6 M562.3,30.04 h11.0 M562.3,14.38 h5.6 M107,578 v-11.3 M125.2,578 v-6.1 M143.4,578 v-6.1 M161.6,578 v-6.1 M179.8,578 v-6.1 M198,578 v-11.3 M216.2,578 v-6.1 M234.4,578 v-6.1 M252.6,578 v-6.1 M270.8,578 v-6.1 M289,578 v-11.3 M307.2,578 v-6.1 M325.4,578 v-6.1 M343.6,578 v-6.1 M361.8,578 v-6.1 M380,578 v-11.3 M398.2,578 v-6.1 M416.4,578 v-6.1 M434.6,578 v-6.1 M452.8,578 v-6.1 M471,578 v-11.3 M489.2,578 v-6.1 M507.4,578 v-6.1 M525.6,578 v-6.1 M543.8,578 v-6.1 M562,578 v-11.3 M562.5,578 v-11.3 M579.73,578 v-6.1 M596.96,578 v-6.1 M614.18,578 v-6.1 M631.41,578 v-6.1 M648.64,578 v-11.3 M665.87,578 v-6.1 M683.1,578 v-6.1 M700.32,578 v-6.1 M717.55,578 v-6.1 M734.78,578 v-11.3 M752.01,578 v-6.1 M769.24,578 v-6.1 M786.46,578 v-6.1 M803.69,578 v-6.1 M820.92,578 v-11.3 M838.15,578 v-6.1 M855.38,578 v-6.1 M872.6,578 v-6.1 M889.83,578 v-6.1 M907.06,578 v-11.3 M924.29,578 v-6.1 M941.52,578 v-6.1 M958.74,578 v-6.1 M975.97,578 v-6.1 M993.2,578 v-11.3 M1010.43,578 v-6.1" stroke="#000" stroke-width="2.8" fill="none"/>
<path d="M107.6,10.3 H1016.0 V578.0 H107.6 Z M562.3,10.3 V578.0" stroke="#000" stroke-width="2.9" fill="none" stroke-linejoin="miter"/>
<rect x="291.0" y="92.6" width="273.0" height="209.70000000000002" fill="#fff" stroke="#000" stroke-width="1.3"/>
<rect x="343" y="123.2" width="12.6" height="12.6" fill="#000000"/>
<path d="M387.8,129.1 H452" stroke="#000000" stroke-width="3"/>
<text x="459.3" y="138.1" font-size="27.8" class="t">150°C</text>
<circle cx="349.3" cy="163.43" r="7.3" fill="#ff0000"/>
<path d="M387.8,163.03 H452" stroke="#ff0000" stroke-width="3"/>
<text x="459.3" y="172.03" font-size="27.8" class="t">175°C</text>
<path d="M349.3,188.26 L357.9,202.66 L340.7,202.66Z" fill="#0000ff"/>
<path d="M387.8,196.96 H452" stroke="#0000ff" stroke-width="3"/>
<text x="459.3" y="205.96" font-size="27.8" class="t">200°C</text>
<path d="M349.3,221.99 L358.6,231.29 L349.3,240.59 L340,231.29Z" fill="#ff00ff"/>
<path d="M387.8,230.89 H452" stroke="#ff00ff" stroke-width="3"/>
<text x="459.3" y="239.89" font-size="27.8" class="t">225°C</text>
<path d="M349.3,257.32 L351.59,262.46 L357.19,263.06 L353.01,266.83 L354.18,272.33 L349.3,269.52 L344.42,272.33 L345.59,266.83 L341.41,263.06 L347.01,262.46Z" fill="#008000"/>
<path d="M387.8,264.82 H452" stroke="#008000" stroke-width="3"/>
<text x="459.3" y="273.82" font-size="27.8" class="t">250°C</text>
<text transform="translate(95.2,586.6) scale(1,1.06)" font-size="33" text-anchor="end" class="t">0</text>
<text transform="translate(95.2,508.32) scale(1,1.06)" font-size="33" text-anchor="end" class="t">2</text>
<text transform="translate(95.2,430.04) scale(1,1.06)" font-size="33" text-anchor="end" class="t">4</text>
<text transform="translate(95.2,351.76) scale(1,1.06)" font-size="33" text-anchor="end" class="t">6</text>
<text transform="translate(95.2,273.48) scale(1,1.06)" font-size="33" text-anchor="end" class="t">8</text>
<text transform="translate(95.2,195.2) scale(1,1.06)" font-size="33" text-anchor="end" class="t">10</text>
<text transform="translate(95.2,116.92) scale(1,1.06)" font-size="33" text-anchor="end" class="t">12</text>
<text transform="translate(95.2,38.64) scale(1,1.06)" font-size="33" text-anchor="end" class="t">14</text>
<text transform="translate(107,616.2) scale(1,1.06)" font-size="33" text-anchor="middle" class="t">0</text>
<text transform="translate(198,616.2) scale(1,1.06)" font-size="33" text-anchor="middle" class="t">20</text>
<text transform="translate(289,616.2) scale(1,1.06)" font-size="33" text-anchor="middle" class="t">40</text>
<text transform="translate(380,616.2) scale(1,1.06)" font-size="33" text-anchor="middle" class="t">60</text>
<text transform="translate(471,616.2) scale(1,1.06)" font-size="33" text-anchor="middle" class="t">80</text>
<text transform="translate(562,616.2) scale(1,1.06)" font-size="33" text-anchor="middle" class="t">100</text>
<text transform="translate(648.64,616.2) scale(1,1.06)" font-size="33" text-anchor="middle" class="t">20</text>
<text transform="translate(734.78,616.2) scale(1,1.06)" font-size="33" text-anchor="middle" class="t">40</text>
<text transform="translate(820.92,616.2) scale(1,1.06)" font-size="33" text-anchor="middle" class="t">60</text>
<text transform="translate(907.06,616.2) scale(1,1.06)" font-size="33" text-anchor="middle" class="t">80</text>
<text transform="translate(993.2,616.2) scale(1,1.06)" font-size="33" text-anchor="middle" class="t">100</text>
<text transform="translate(565.4,678.6) scale(1,1.04)" font-size="37.8" text-anchor="middle" class="t">Depth (nm)</text>
<text transform="translate(39.0,317.1) rotate(-90) scale(1,1.02)" font-size="38.8" text-anchor="middle" class="t">Cu (at.%)</text>
<text x="352.6" y="49.0" font-size="28" class="t">(a) In<tspan dy="11" font-size="22">2</tspan><tspan dy="-11">S</tspan><tspan dy="11" font-size="22">3</tspan><tspan dy="-11">(acac)</tspan></text>
<text x="838.4" y="55.4" font-size="28" class="t">(b) In<tspan dy="11" font-size="22">2</tspan><tspan dy="-11">S</tspan><tspan dy="11" font-size="22">3</tspan><tspan dy="-11">(Cl)</tspan></text>
</svg>
</body></html>
